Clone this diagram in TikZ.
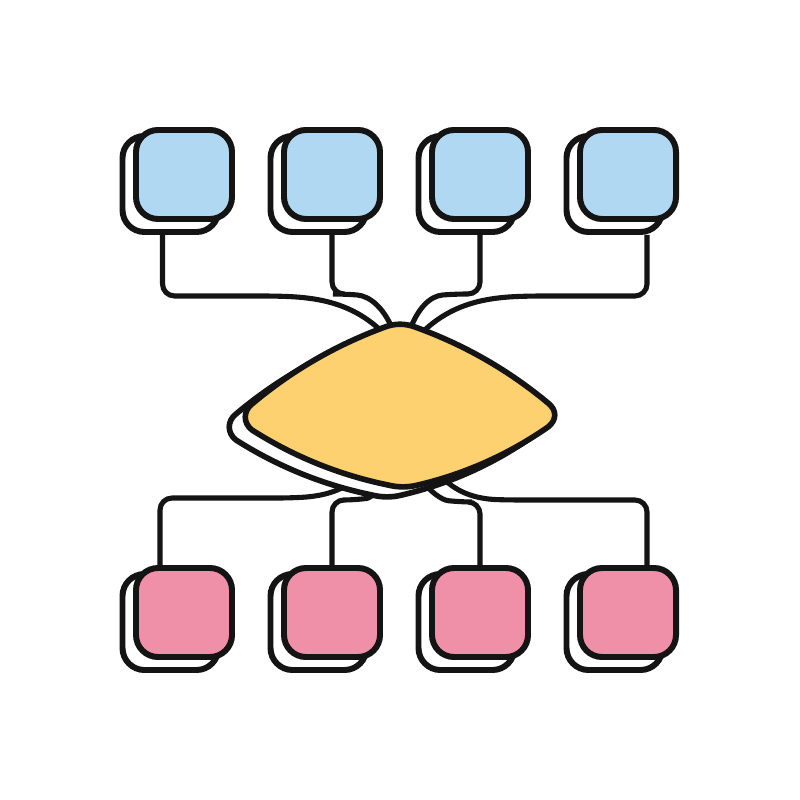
\documentclass[tikz,border=0pt]{standalone}
\usepackage{xcolor}
\usepackage{tikz}
\usetikzlibrary{backgrounds}
\definecolor{chartInk}{HTML}{141414}
\definecolor{chartBlue}{HTML}{B0D8F2}
\definecolor{chartPink}{HTML}{F08FA8}
\definecolor{chartGold}{HTML}{FDD070}
\tikzset{
    chart/box/.style={
        rectangle, rounded corners=2.2mm,
        draw=chartInk, line width=1.7pt,
        minimum width=0.96cm, minimum height=0.89cm, inner sep=0pt
    },
    chart/input box/.style={chart/box, fill=chartBlue},
    chart/output box/.style={chart/box, fill=chartPink},
    chart/shadow box/.style={chart/box, fill=white, minimum height=0.96cm},
    chart/link/.style={
        draw=chartInk, line width=1.45pt, rounded corners=1.2mm
    },
    chart/hub front/.style={draw=chartInk, fill=chartGold, line width=1.6pt},
    chart/hub back/.style={draw=chartInk, fill=white, line width=1.6pt}
}
\newcommand{\hubOutline}{
    (2.52,-4.04) .. controls (2.918,-3.705) and (3.362,-3.449) .. (3.85,-3.27)
    .. controls (3.95,-3.233) and (4.05,-3.233) .. (4.15,-3.27)
    .. controls (4.638,-3.445) and (5.082,-3.699) .. (5.48,-4.03)
    .. controls (5.57,-4.1) and (5.57,-4.2) .. (5.48,-4.27)
    .. controls (5.084,-4.545) and (4.65,-4.739) .. (4.18,-4.85)
    .. controls (4.08,-4.875) and (3.98,-4.875) .. (3.88,-4.85)
    .. controls (3.393,-4.75) and (2.939,-4.566) .. (2.52,-4.30)
    .. controls (2.43,-4.23) and (2.43,-4.11) .. cycle
}

\begin{document}
\begin{tikzpicture}
    \useasboundingbox (0,0) rectangle (8,-8);

    % input row
    \node[chart/input box] (tf1) at (1.84,-1.745) {};
    \node[chart/input box] (tf2) at (3.32,-1.745) {};
    \node[chart/input box] (tf3) at (4.80,-1.745) {};
    \node[chart/input box] (tf4) at (6.28,-1.745) {};

    % output row
    \node[chart/output box] (bf1) at (1.84,-6.125) {};
    \node[chart/output box] (bf2) at (3.32,-6.125) {};
    \node[chart/output box] (bf3) at (4.80,-6.125) {};
    \node[chart/output box] (bf4) at (6.28,-6.125) {};

    \begin{scope}[on background layer]
        \node[chart/shadow box] (tb1) at ([shift={(-0.135,-0.095)}]tf1.center) {};
        \node[chart/shadow box] (tb2) at ([shift={(-0.135,-0.095)}]tf2.center) {};
        \node[chart/shadow box] (tb3) at ([shift={(-0.135,-0.095)}]tf3.center) {};
        \node[chart/shadow box] (tb4) at ([shift={(-0.135,-0.095)}]tf4.center) {};
        \node[chart/shadow box] (bb1) at ([shift={(-0.135,-0.095)}]bf1.center) {};
        \node[chart/shadow box] (bb2) at ([shift={(-0.135,-0.095)}]bf2.center) {};
        \node[chart/shadow box] (bb3) at ([shift={(-0.135,-0.095)}]bf3.center) {};
        \node[chart/shadow box] (bb4) at ([shift={(-0.135,-0.095)}]bf4.center) {};
    \end{scope}

    \coordinate (hub in 1) at (3.90,-3.40);
    \coordinate (hub in 2) at (3.95,-3.35);
    \coordinate (hub in 3) at (4.08,-3.35);
    \coordinate (hub in 4) at (4.15,-3.40);
    \coordinate (hub out 1) at (3.60,-4.75);
    \coordinate (hub out 2) at (3.90,-4.78);
    \coordinate (hub out 3) at (4.20,-4.78);
    \coordinate (hub out 4) at (4.40,-4.75);

    % links into the hub
    \draw[chart/link] ([xshift=-0.08cm]tb1.south) |- (2.75,-2.96)
        .. controls (3.25,-2.98) and (3.6,-3.06) .. (hub in 1);
    \draw[chart/link] ([xshift=0.135cm]tb2.south) |- (3.45,-2.94)
        .. controls (3.7,-2.96) and (3.85,-3.08) .. (hub in 2);
    \draw[chart/link] ([xshift=0.135cm]tb3.south) |- (4.55,-2.94)
        .. controls (4.3,-2.96) and (4.17,-3.08) .. (hub in 3);
    \draw[chart/link] ([xshift=0.325cm]tb4.south) |- (5.3,-2.96)
        .. controls (4.8,-2.98) and (4.45,-3.06) .. (hub in 4);

    % links out of the hub
    \draw[chart/link] ([xshift=-0.24cm]bf1.north) |- (2.9,-4.98)
        .. controls (3.25,-4.96) and (3.45,-4.9) .. (hub out 1);
    \draw[chart/link] (bf2.north) |- (3.55,-5.0)
        .. controls (3.7,-4.98) and (3.8,-4.9) .. (hub out 2);
    \draw[chart/link] (bf3.north) |- (4.6,-5.02)
        .. controls (4.42,-5.0) and (4.3,-4.92) .. (hub out 3);
    \draw[chart/link] ([xshift=0.19cm]bf4.north) |- (5.1,-5.0)
        .. controls (4.75,-4.99) and (4.55,-4.92) .. (hub out 4);

    % hub
    \draw[chart/hub back, shift={(-0.16,-0.1)}] \hubOutline;
    \draw[chart/hub front] \hubOutline;
\end{tikzpicture}
\end{document}
